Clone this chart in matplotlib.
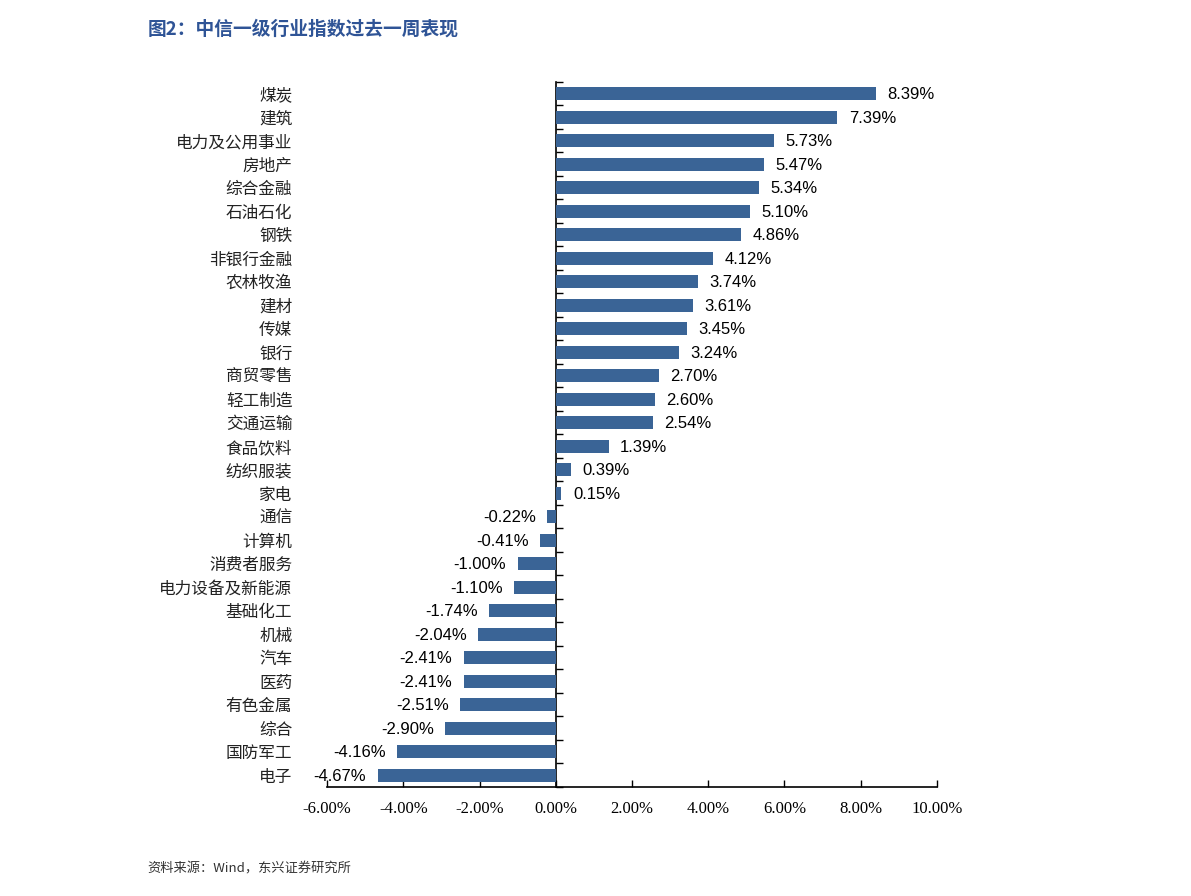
import matplotlib
matplotlib.use('Agg')
from matplotlib import pyplot as plt
import numpy as np

industries = ["煤炭", "建筑", "电力及公用事业", "房地产", "综合金融", "石油石化", "钢铁",
              "非银行金融", "农林牧渔", "建材", "传媒", "银行", "商贸零售", "轻工制造",
              "交通运输", "食品饮料", "纺织服装", "家电", "通信", "计算机", "消费者服务",
              "电力设备及新能源", "基础化工", "机械", "汽车", "医药", "有色金属", "综合",
              "国防军工", "电子"]
weekly_change = [8.39, 7.39, 5.73, 5.47, 5.34, 5.10, 4.86, 4.12, 3.74, 3.61, 3.45, 3.24,
                 2.70, 2.60, 2.54, 1.39, 0.39, 0.15, -0.22, -0.41, -1.00, -1.10, -1.74,
                 -2.04, -2.41, -2.41, -2.51, -2.90, -4.16, -4.67]
x_ticks = [-6, -4, -2, 0, 2, 4, 6, 8, 10]

cjk = ['Noto Sans CJK SC', 'DejaVu Sans']
bar_color = '#3A6496'

fig = plt.figure(figsize=(11.91, 8.96), dpi=100)
ax = fig.add_axes([0.2746, 0.1217, 0.5121, 0.7868])

y = np.arange(len(industries))
ax.barh(y, weekly_change, height=0.55, color=bar_color, zorder=3)
ax.set_ylim(len(industries) - 0.5, -0.5)
ax.set_xlim(-6, 10)

for yi, v in zip(y, weekly_change):
    if v >= 0:
        ax.text(v + 0.3, yi + 0.05, '%.2f%%' % v, va='center', ha='left',
                fontsize=12, family='Liberation Sans')
    else:
        ax.text(v - 0.3, yi + 0.05, '%.2f%%' % v, va='center', ha='right',
                fontsize=12, family='Liberation Sans')

ax.set_yticks(y)
ax.set_yticklabels(industries, family=cjk, fontsize=12, color='#222222')
ax.tick_params(axis='y', length=0, pad=25)

ax.set_xticks(x_ticks)
ax.set_xticklabels(['%.2f%%' % t for t in x_ticks], family='Liberation Serif', fontsize=12)
ax.tick_params(axis='x', direction='in', length=5, pad=10, width=1)

for s in ['top', 'right', 'left']:
    ax.spines[s].set_visible(False)
ax.spines['bottom'].set_linewidth(1.2)

# zero line with category boundary ticks
zero_pos = (0 - (-6)) / 16
sec = ax.secondary_yaxis(zero_pos)
sec.set_yticks(np.arange(-0.5, len(industries), 1))
sec.tick_params(direction='in', length=5, labelleft=False, width=1)
sec.spines['left'].set_linewidth(1.2)

fig.text(0.124, 0.968, '图2：中信一级行业指数过去一周表现', family=cjk, fontsize=13.5,
         fontweight='bold', color='#2F5496', ha='left', va='center')
fig.text(0.124, 0.03, '资料来源：Wind，东兴证券研究所', family=cjk, fontsize=9.5,
         style='italic', color='#333333', ha='left', va='center')

fig.savefig('out.png', dpi=100)
